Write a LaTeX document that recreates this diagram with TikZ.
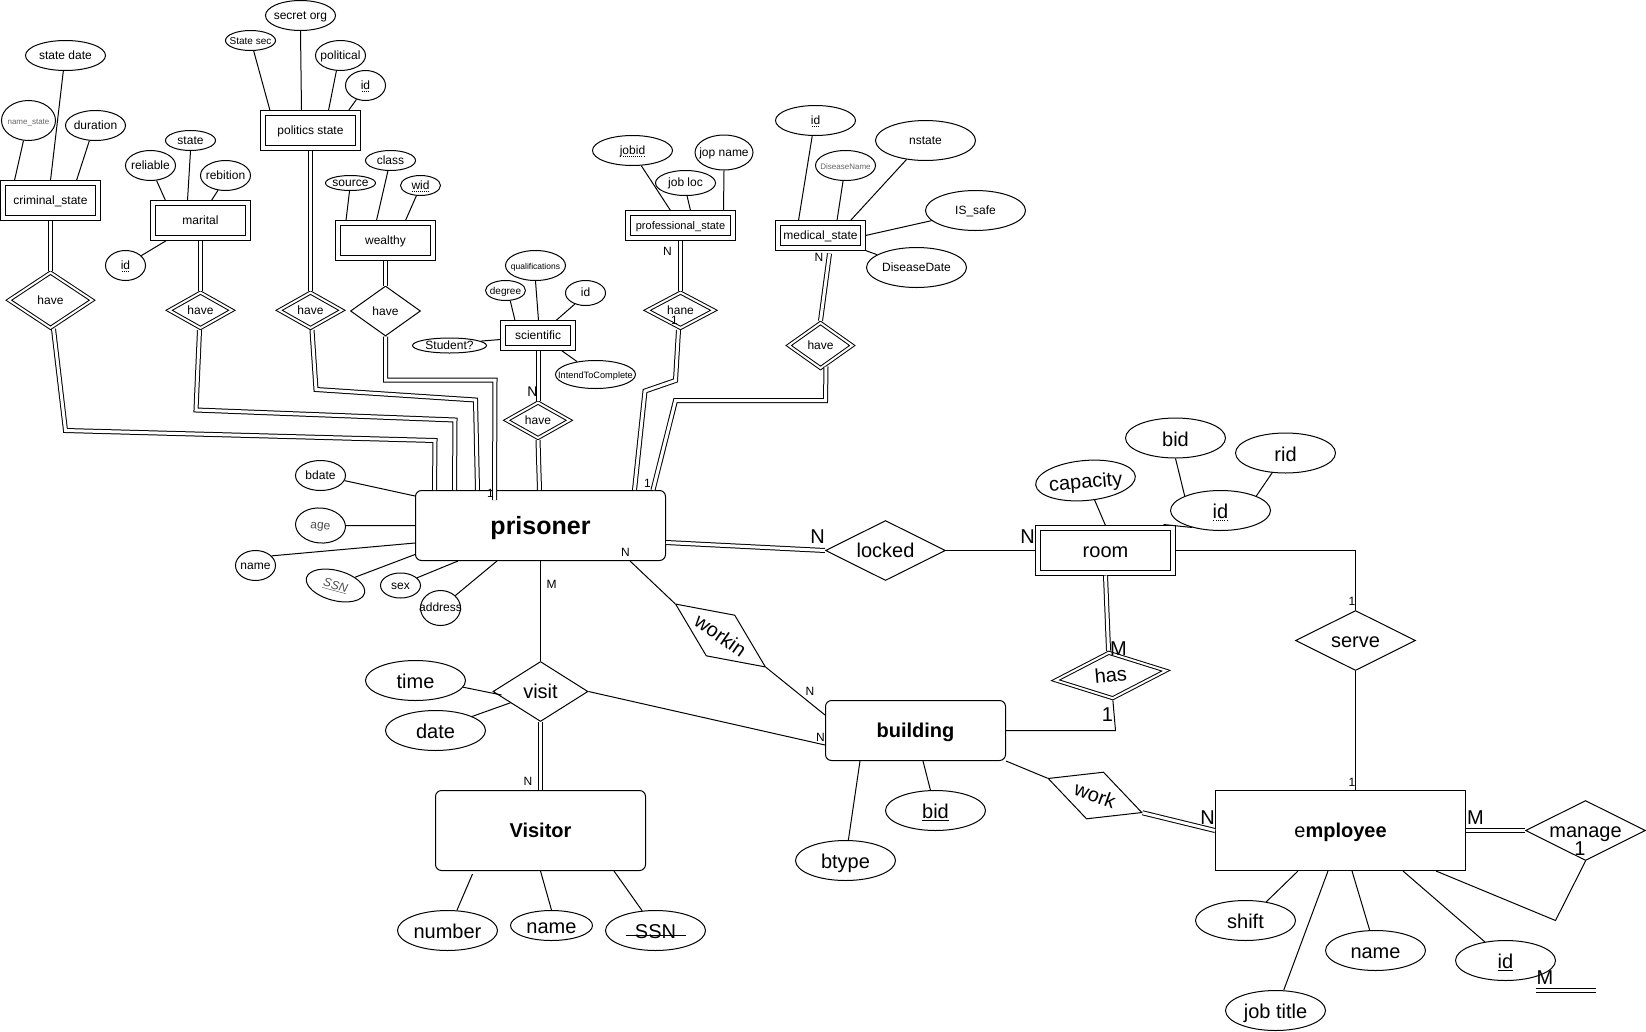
\documentclass[tikz,border=0pt]{standalone}
\usepackage{fontspec}
\setmainfont{Liberation Sans}
\usetikzlibrary{shapes,positioning}
\newcommand{\tx}[1]{\makebox[0pt]{#1}}
\newcommand{\dul}[1]{\leavevmode\setbox0=\hbox{#1}\rlap{\raisebox{-2.5pt}{\hbox to \wd0{\xleaders\hbox to 2pt{\hss\rule{1pt}{1pt}\hss}\hfill}}}\box0}

\begin{document}
\begin{tikzpicture}[
  x=1pt, y=-1pt, line width=1pt,
  attr/.style 2 args={ellipse, draw, fill=white, inner sep=0pt, minimum width=#1pt, minimum height=#2pt, text height=7.5pt, text depth=0pt, font=\fontsize{12}{14}\selectfont},
  attrb/.style={ellipse, draw, fill=white, inner sep=0pt, minimum width=100pt, minimum height=40pt, text height=16pt, text depth=0pt, font=\fontsize{20}{24}\selectfont},
  strong/.style 2 args={rectangle, draw, fill=white, rounded corners=6pt, inner sep=0pt, minimum width=#1pt, minimum height=#2pt, text height=14pt, text depth=0pt, font=\fontsize{20}{24}\selectfont\bfseries},
  weak/.style 2 args={rectangle, draw, double, double distance=4pt, fill=white, inner sep=0pt, outer sep=2.5pt, minimum width=#1pt, minimum height=#2pt, text height=8pt, text depth=0pt, font=\fontsize{12}{14}\selectfont},
  rel/.style 2 args={diamond, aspect=2, draw, fill=white, inner sep=0pt, minimum width=#1pt, minimum height=#2pt, text height=14pt, text depth=0pt, font=\fontsize{20}{24}\selectfont},
  wrel/.style 2 args={diamond, aspect=2, draw, double, double distance=2pt, fill=white, inner sep=0pt, outer sep=1.5pt, minimum width=#1pt, minimum height=#2pt, text height=8pt, text depth=0pt, font=\fontsize{12}{14}\selectfont},
  card/.style={inner sep=0pt, font=\fontsize{12}{14}\selectfont},
  cardb/.style={inner sep=0pt, font=\fontsize{20}{24}\selectfont},
  dbl/.style={double, double distance=3pt}
]
\useasboundingbox (0,0) rectangle (1646,1031);

\node[strong={250}{70}, text height=17pt, font=\fontsize{25}{29}\selectfont\bfseries] (prisoner) at (540.5,525.5) {prisoner};
\node[rel={95}{60}, below=100pt of prisoner] (visit) {visit};
\node[strong={210}{80}, below=68pt of visit] (visitor) {Visitor};
\node[strong={180}{60}] (building) at (915.5,730.5) {building};
\node[strong={250}{80}, rounded corners=0pt, font=\fontsize{20}{24}\selectfont] (employee) at (1340.5,830.5) {e\textbf{mployee}};
\node[weak={135}{45}, text height=14pt, font=\fontsize{20}{24}\selectfont] (room) at (1105.5,550.5) {room};

\node[weak={95}{35}] (crim) at (50.5,200.5) {criminal\_state};
\node[weak={95}{35}] (marital) at (200.5,220.5) {marital};
\node[weak={95}{35}] (politics) at (310.5,130.5) {politics state};
\node[weak={95}{35}] (wealthy) at (385.5,240.5) {wealthy};
\node[weak={70}{25}] (sci) at (538,335.5) {scientific};
\node[weak={105}{25}, font=\fontsize{11}{13}\selectfont] (prof) at (680.5,225.5) {professional\_state};
\node[weak={85}{25}] (medical) at (820.5,235.5) {medical\_state};

\node[wrel={84.6}{56.4}, below=50pt of crim] (have1) {have};
\node[wrel={64}{36.6}, below=50pt of marital] (have2) {have};
\node[wrel={64}{36.6}, below=140pt of politics] (have3) {have};
\node[rel={70}{50}, below=25pt of wealthy, text height=8pt, font=\fontsize{12}{14}\selectfont] (have4) {have};
\node[wrel={64}{36.6}, below=50pt of sci] (have5) {have};
\node[wrel={68}{36.6}, below=50pt of prof] (hane) {hane};
\node[wrel={64.8}{46.3}] (have6) at (820.5,345.5) {have};
\node[rel={120}{60}] (locked) at (885.5,550.5) {locked};
\node[rel={120}{60}] (serve) at (1355.5,640.5) {serve};
\node[rel={120}{60}] (manage) at (1585.5,830.5) {manage};
\node[rel={110}{50}, rotate=-35] (workin) at (720.5,635.5) {workin};
\node[rel={100}{50}, rotate=-20] (work) at (1095,795.5) {work};
\node[wrel={112}{46.8}, rotate=5, text height=14pt, font=\fontsize{20}{24}\selectfont] (has) at (1110.7,675.5) {has};

\node[attr={80}{30}] (statedate) at (65.5,55.5) {\tx{state date}};
\node[attr={54}{40}, text=black!60, font=\fontsize{8}{10}\selectfont] (namestate) at (28.5,120.5) {\tx{name\_state}};
\node[attr={60}{30}] (duration) at (95.5,125.5) {\tx{duration}};
\node[attr={50}{20}] (state) at (190.5,140.5) {\tx{state}};
\node[attr={50}{30}] (reliable) at (150.5,165.5) {\tx{reliable}};
\node[attr={50}{30}] (rebition) at (225.5,175.5) {\tx{rebition}};
\node[attr={40}{30}] (marid) at (125.5,265.5) {\tx{\dul{id}}};
\node[attr={70}{30}] (secret) at (300.5,15.5) {\tx{secret org}};
\node[attr={50}{20}, font=\fontsize{10}{12}\selectfont] (statesec) at (250.5,40.5) {\tx{State sec}};
\node[attr={50}{30}] (political) at (340.5,55.5) {\tx{political}};
\node[attr={40}{30}] (polid) at (365.5,85.5) {\tx{\dul{id}}};
\node[attr={50}{15}] (source) at (350.5,183) {\tx{source}};
\node[attr={50}{20}] (class) at (390.5,160.5) {\tx{class}};
\node[attr={40}{20}] (wid) at (420.5,185.5) {\tx{\dul{wid}}};
\node[attr={60}{30}, font=\fontsize{8.5}{10}\selectfont] (qual) at (535.5,265.5) {\tx{qualifications}};
\node[attr={40}{20}, font=\fontsize{10}{12}\selectfont] (degree) at (505.5,290.5) {\tx{degree}};
\node[attr={40}{25}] (sciid) at (585.5,293) {\tx{id}};
\node[attr={74}{15}] (student) at (449.5,345.5) {\tx{Student?}};
\node[attr={80}{28}, font=\fontsize{9.2}{11}\selectfont] (intend) at (595.5,374.5) {\tx{IntendToComplete}};
\node[attr={80}{30}] (jobid) at (632.5,150.5) {\tx{\dul{jobid}}};
\node[attr={58}{35}] (jopname) at (724,152.5) {\tx{jop name}};
\node[attr={60}{25}] (jobloc) at (685.5,183) {\tx{job loc}};
\node[attr={80}{30}] (medid) at (815.5,120.5) {\tx{\dul{id}}};
\node[attr={60}{30}, text=black!60, font=\fontsize{8}{10}\selectfont] (disname) at (845.5,165.5) {\tx{DiseaseName}};
\node[attr={100}{40}] (nstate) at (925.5,140.5) {\tx{nstate}};
\node[attr={100}{40}] (issafe) at (975.5,210.5) {\tx{IS\_safe}};
\node[attr={100}{40}] (disdate) at (916.5,267.5) {\tx{DiseaseDate}};

\node[attr={50}{30}] (bdate) at (320.5,475.5) {\tx{bdate}};
\node[attr={50}{35}, rotate=-5, text=black!70] (age) at (320.5,525.5) {\tx{age}};
\node[attr={40}{30}] (name) at (255.5,565.5) {\tx{name}};
\node[attr={60}{30}, rotate=-15, text=black!70] (ssn) at (335.5,585.5) {\tx{\itshape\underline{SSN}}};
\node[attr={40}{25}] (sex) at (400.5,585.5) {\tx{sex}};
\node[attr={40}{35}] (address) at (440.5,608) {\tx{address}};

\node[attrb] (time) at (415.5,680.5) {\tx{time}};
\node[attrb] (date) at (435.5,730.5) {\tx{date}};
\node[attrb] (number) at (447.5,930.5) {\tx{number}};
\node[attrb, minimum width=82pt, minimum height=30pt] (vname) at (551.5,925.5) {\tx{name}};
\node[attrb] (vssn) at (655.5,930.5) {\tx{SSN}};
\node[attrb] (bid) at (935.5,810.5) {\tx{\underline{bid}}};
\node[attrb] (btype) at (845.5,860.5) {\tx{btype}};
\node[attrb, rotate=5] (capacity) at (1085.5,480.5) {\tx{capacity}};
\node[attrb] (rbid) at (1175.5,438) {\tx{bid}};
\node[attrb] (rid) at (1285.5,453) {\tx{rid}};
\node[attrb] (roomid) at (1220.5,510.5) {\tx{\dul{id}}};
\node[attrb] (shift) at (1245.5,920.5) {\tx{shift}};
\node[attrb] (jobtitle) at (1275.5,1010.5) {\tx{job title}};
\node[attrb] (ename) at (1375.5,950.5) {\tx{name}};
\node[attrb] (eid) at (1505.5,960.5) {\tx{\underline{id}}};

\draw (namestate.256) -- ([xshift=14pt]crim.north west);
\draw (statedate.262) -- ([xshift=50pt]crim.north west);
\draw (duration.248) -- ([xshift=76pt]crim.north west);
\draw (reliable.292) -- ([xshift=15pt]marital.north west);
\draw (state.270) -- ([xshift=37pt]marital.north west);
\draw (rebition.243) -- ([xshift=61pt]marital.north west);
\draw (marid.32) -- ([xshift=16pt]marital.south west);
\draw (statesec.287) -- ([xshift=9.5pt]politics.north west);
\draw (secret.270) -- ([xshift=41pt]politics.north west);
\draw (political.255) -- ([xshift=68pt]politics.north west);
\draw (polid.237) -- ([xshift=88pt]politics.north west);
\draw (source.263) -- ([xshift=10.5pt]wealthy.north west);
\draw (class.256) -- ([xshift=41pt]wealthy.north west);
\draw (wid.248) -- ([xshift=70pt]wealthy.north west);
\draw (qual.270) -- ([xshift=38pt]sci.north west);
\draw (degree.295) -- ([xshift=14.5pt]sci.north west);
\draw (sciid.226) -- ([xshift=55.5pt]sci.north west);
\draw (student.8) -- ([yshift=-4pt]sci.west);
\draw (intend.145) -- ([xshift=61pt]sci.south west);
\draw (jobid.300) -- ([xshift=45pt]prof.north west);
\draw (jobloc.277) -- ([xshift=65pt]prof.north west);
\draw (jopname.270) -- ([xshift=98pt]prof.north west);
\draw (medid.258) -- ([xshift=23pt]medical.north west);
\draw (disname.261) -- ([xshift=61.5pt]medical.north west);
\draw (nstate.225) -- ([xshift=75pt]medical.north west);
\draw (issafe.193) -- (medical.east);
\draw (disdate.162) -- (medical.south east);

\draw[dbl] (crim) -- (have1);
\draw[dbl] (marital) -- (have2);
\draw[dbl] (politics) -- (have3);
\draw[dbl] (wealthy) -- (have4);
\draw[dbl] (sci) -- (have5);
\draw[dbl] (prof) -- (hane);
\draw[dbl] ([xshift=54pt,yshift=-3pt]medical.south west) -- (have6.north);

\draw[dbl] ([xshift=3pt,yshift=1pt]have1.south) -- (65.5,430.5) -- (435,440.5) -- ([xshift=19.5pt]prisoner.north west);
\draw[dbl] ([xshift=-1pt]have2.south) -- (196,410) -- (455,420) -- ([xshift=39.5pt]prisoner.north west);
\draw[dbl] ([xshift=1.5pt]have3.south) -- (316,389.5) -- (475.5,400) -- ([xshift=62.5pt]prisoner.north west);
\draw[dbl] (have4.south) -- (385.5,380) -- (495,380) -- ([xshift=79.5pt,yshift=-10pt]prisoner.north west);
\draw[dbl] (have5.south) -- ([xshift=-1pt]prisoner.north);
\draw[dbl] ([xshift=-2pt]hane.south) -- (675.5,380.5) -- (645,391) -- ([xshift=219.5pt]prisoner.north west);
\draw[dbl] ([xshift=5.5pt,yshift=3.5pt]have6.south) -- (825.5,400.5) -- (675.5,400.5) -- ([xshift=238pt]prisoner.north west);

\draw (bdate.348) -- ([yshift=-6pt]prisoner.north west);
\draw (age.5) -- (prisoner.west);
\draw (name.31) -- ([yshift=-17.5pt]prisoner.west);
\draw (ssn.38) -- ([yshift=-29pt]prisoner.west);
\draw (sex.25) -- ([xshift=43pt]prisoner.south west);
\draw (address.40) -- ([xshift=82pt]prisoner.south west);

\draw (prisoner) -- (visit);
\draw (time.352) -- ([xshift=9pt,yshift=-3.5pt]visit.west);
\draw (date.21) -- ([xshift=18.7pt,yshift=-11pt]visit.west);
\draw (visit.east) -- ([yshift=-14.5pt]building.west);
\draw[dbl] (visit) -- (visitor);
\draw (number.65) -- ([xshift=37.5pt,yshift=-3pt]visitor.south west);
\draw (vname.90) -- (visitor.south);
\draw (vssn.124) -- ([xshift=179pt]visitor.south west);
\draw ([xshift=-30pt,yshift=-5pt]vssn.center) -- ([xshift=30pt,yshift=-5pt]vssn.center);

\draw ([xshift=215pt]prisoner.south west) -- (workin.west);
\draw (workin.east) -- ([yshift=-15pt]building.north west);
\draw[dbl] ([yshift=-17pt]prisoner.east) -- (locked.west);
\draw (locked) -- (room);
\draw (bid.104) -- ([xshift=98pt]building.south west);
\draw (btype.82) -- ([xshift=35pt]building.south west);
\draw (building.east) -- (1115.5,730.5) -- (has.south);
\draw[dbl] (room.south) -- (has.north);
\draw (capacity.290) -- ([xshift=70pt]room.north west);
\draw (rbid.270) -- (roomid.158);
\draw (rid.236) -- (roomid.22);
\draw (roomid.211) -- ([xshift=-12pt,yshift=1pt]room.north east);
\draw (room.east) -| (serve.north);
\draw (serve.south) -- ([xshift=140.5pt]employee.north west);
\draw (building.south east) -- (work.west);
\draw[dbl] (work.east) -- (employee.west);
\draw[dbl] (employee.east) -- (manage.west);
\draw (manage.south) -- (1555.5,920.5) -- ([xshift=-30pt]employee.south east);
\draw (shift.42) -- ([xshift=83pt]employee.south west);
\draw (jobtitle.68) -- ([xshift=113pt]employee.south west);
\draw (ename.106) -- ([xshift=137pt]employee.south west);
\draw (eid.138) -- ([xshift=188pt]employee.south west);

\node[card, font=\fontsize{14}{16}\selectfont] (cardsci) at (532.5,391.5) {N};
\node[card] (cardprof) at (667.5,251.5) {N};
\node[card] (cardmed) at (819,257.5) {N};
\node[card] (cardhane) at (674.5,320) {1};
\node[card] (cardprisa) at (647.5,483) {1};
\node[card] (cardprisb) at (490.5,493) {1};
\node[card] (cardwork) at (625.5,552.5) {N};
\node[card] (cardvisit) at (551.5,584.5) {M};
\node[card] (cardvis) at (528,781.5) {N};
\node[card] (cardbuilda) at (810,691.5) {N};
\node[card] (cardbuildb) at (820.5,737.5) {N};
\node[card] (cardserve) at (1352,601.5) {1};
\node[card] (cardemp) at (1352,782) {1};
\node[cardb] (cardlocka) at (817.5,536.5) {N};
\node[cardb] (cardlockb) at (1027.5,536.5) {N};
\node[cardb] (cardhasa) at (1118.5,648.5) {M};
\node[cardb] (cardhasb) at (1107.5,714.5) {1};
\node[cardb] (cardworkb) at (1207.5,817.5) {N};
\node[cardb] (cardmana) at (1475.5,817.5) {M};
\node[cardb] (cardmanb) at (1580,848.5) {1};
\node[cardb] (cardstray) at (1545,977.5) {M};

\coordinate (strayl) at (1535.5,990.5);
\coordinate (strayr) at (1596,990.5);
\draw[dbl] (strayl) -- (strayr);

\end{tikzpicture}
\end{document}
